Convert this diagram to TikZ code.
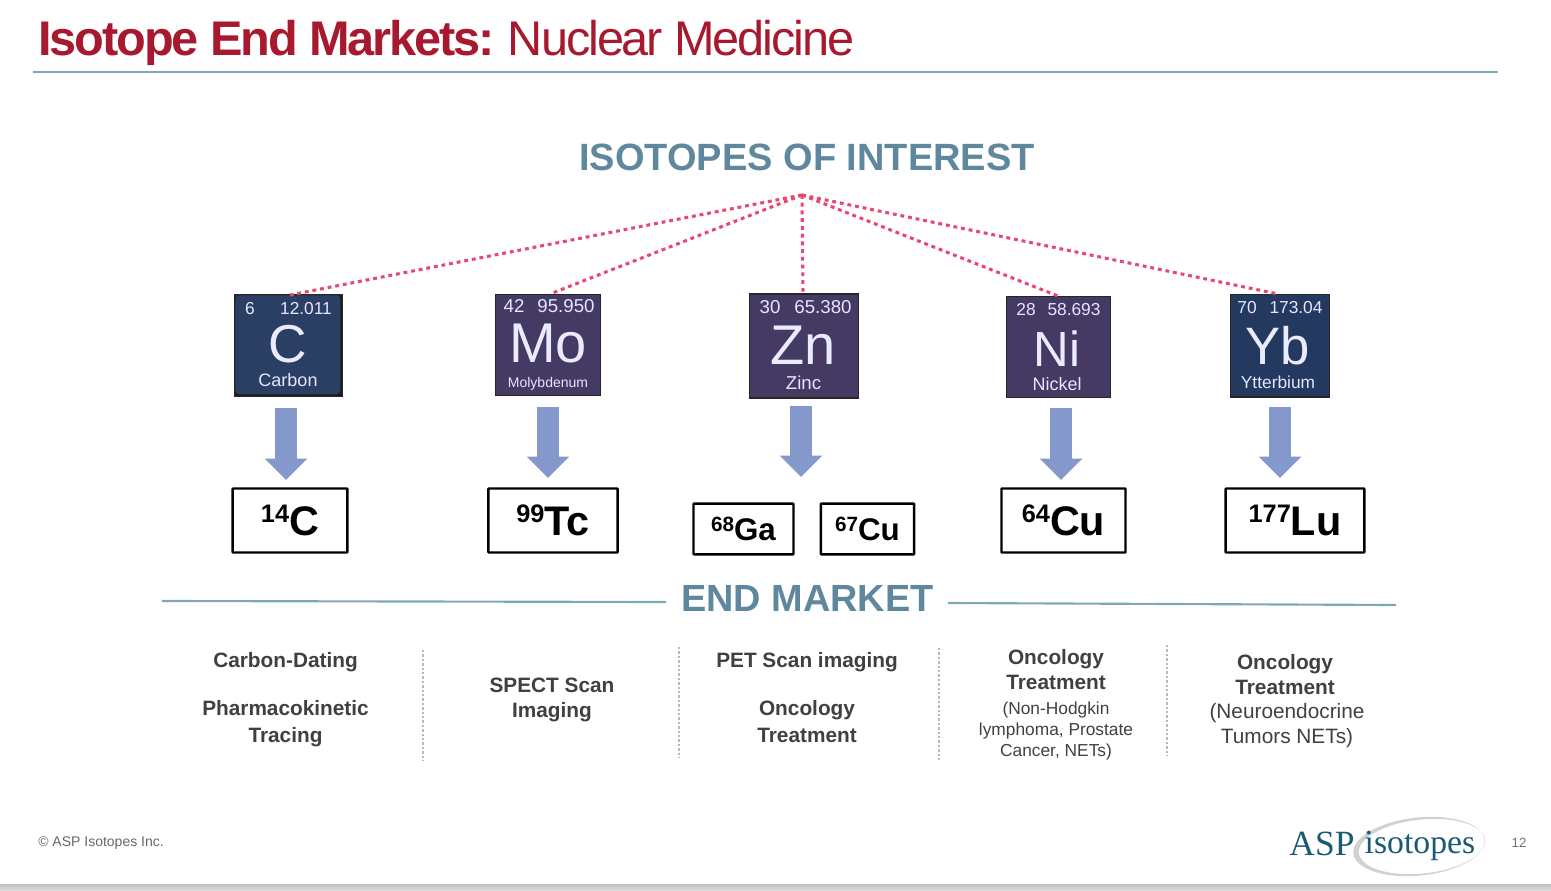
\documentclass[tikz,border=0pt]{standalone}
\usepackage{fontspec}
\setmainfont{Liberation Sans}
\newfontfamily\logofont{Liberation Serif}
\usetikzlibrary{arrows.meta}
\definecolor{titlered}{HTML}{A6192E}
\definecolor{headblue}{HTML}{5F879E}
\definecolor{rulegreen}{HTML}{7FA9B2}
\definecolor{linkpink}{HTML}{E8486F}
\definecolor{cellblue}{HTML}{2A3F63}
\definecolor{cellnavy}{HTML}{24395F}
\definecolor{cellpurple}{HTML}{453A63}
\definecolor{arrowblue}{HTML}{8498CC}
\definecolor{bodygray}{HTML}{404040}
\definecolor{logoblue}{HTML}{1B5A75}
\definecolor{logodot}{HTML}{7FB5E0}
\newcommand{\fsz}[1]{\fontsize{#1}{\dimexpr#1pt*6/5\relax}\selectfont}
\newcommand{\isoname}[2]{\raisebox{.3em}{\fontsize{19}{20}\selectfont #1}#2}
\newcommand{\isosmall}[2]{\raisebox{.3em}{\fontsize{15.5}{16}\selectfont #1}#2}
\tikzset{
  cellbox/.style={draw=black!85, line width=1pt, inner sep=0pt},
  cellnum/.style={text=white!90!blue, font=\fsz{13}, inner sep=0pt},
  cellnumb/.style={text=white!90!blue, font=\fsz{14}, inner sep=0pt},
  cellsym/.style={text=white!92!blue, font=\fsz{42}, inner sep=0pt},
  cellname/.style={text=white!90!blue, font=\fsz{13.5}, inner sep=0pt},
  isobox/.style={draw=black, line width=1.8pt, rounded corners=.5pt, inner sep=0pt, font=\bfseries\fsz{31}},
  isoboxsmall/.style={isobox, font=\bfseries\fsz{23.5}},
  down/.style={draw=arrowblue, line width=16pt, -{Triangle[length=16pt, width=31pt]}},
  link/.style={draw=linkpink, line width=2.3pt, dash pattern=on 2.9pt off 2.9pt},
  sep/.style={draw=black!28, line width=1.8pt, dash pattern=on 1.8pt off 1.5pt},
  rulel/.style={draw=rulegreen, line width=1.6pt},
  market/.style={text=bodygray, font=\bfseries\fsz{15.6}, align=center, inner sep=0pt},
  marketthin/.style={text=bodygray, font=\fsz{13}, align=center, inner sep=0pt}
}
\begin{document}
\begin{tikzpicture}[x=.75pt,y=-.75pt]
  \useasboundingbox (0,0) rectangle (1551,891);
  % title
  \node[anchor=west, inner sep=0pt, text=titlered, font=\addfontfeatures{LetterSpace=-4.3}\fsz{36.5}] (title) at (38,43) {\textbf{Isotope End Markets:} Nuclear Medicine};
  \coordinate (titleL) at (33,72);
  \coordinate (titleR) at (1498,72);
  \draw[rulel] (titleL) to (titleR);
  \node[text=headblue, font=\bfseries\fsz{28.5}, inner sep=0pt] (interest) at (807,157.5) {ISOTOPES OF INTEREST};
  \coordinate (apex) at (802,195);
  % element cells
  \node[cellbox, fill=black!88, minimum width=81pt, minimum height=76pt] (cellC) at (288.5,345.5) {};
  \node[inner sep=0pt, rounded corners=2.5pt, fill=cellblue, minimum width=78.5pt, minimum height=74pt] (panelC) at (287.7,344.7) {};
  \node[cellbox, fill=cellpurple, minimum width=79pt, minimum height=76pt] (cellMo) at (548,345) {};
  \node[cellbox, fill=cellpurple, minimum width=82pt, minimum height=78pt] (cellZn) at (804,346) {};
  \node[cellbox, fill=cellpurple, minimum width=78pt, minimum height=76pt] (cellNi) at (1058.5,347) {};
  \node[cellbox, fill=cellnavy, minimum width=74pt, minimum height=77pt] (cellYb) at (1280,345.5) {};
  \node[cellnum] (numC) at (250,309) {6};
  \node[cellnum] (massC) at (306,309) {12.011};
  \node[cellsym, font=\fsz{40}] (symC) at (288,344) {C};
  \node[cellname] (nameC) at (288,380) {Carbon};
  \node[cellnumb] (numMo) at (514,306) {42};
  \node[cellnumb] (massMo) at (566,306) {95.950};
  \node[cellsym] (symMo) at (548,344) {Mo};
  \node[cellname, font=\fsz{10.5}] (nameMo) at (548,384) {Molybdenum};
  \node[cellnumb] (numZn) at (770,307) {30};
  \node[cellnumb] (massZn) at (823,307) {65.380};
  \node[cellsym] (symZn) at (803,345) {Zn};
  \node[cellname, font=\fsz{14}] (nameZn) at (803.5,383) {Zinc};
  \node[cellnum] (numNi) at (1026,310) {28};
  \node[cellnum] (massNi) at (1074,310) {58.693};
  \node[cellsym, font=\fsz{37}] (symNi) at (1057,349) {Ni};
  \node[cellname] (nameNi) at (1057,384) {Nickel};
  \node[cellnum] (numYb) at (1247,308) {70};
  \node[cellnum] (massYb) at (1296,308) {173.04};
  \node[cellsym, font=\fsz{39.5}] (symYb) at (1278,346) {Yb};
  \node[cellname, font=\fsz{13}] (nameYb) at (1278,382) {Ytterbium};
  % links
  \begin{scope}[link]
    \draw (apex) to (290,295);
    \draw (apex) to (550,294);
    \draw (apex) to (803,294);
    \draw (apex) to (1058,296);
    \draw (apex) to (1278,294);
  \end{scope}
  % isotope boxes
  \node[isobox, minimum width=86pt, minimum height=48pt] (isoC) at (290,520.5) {\isoname{14}{C}};
  \node[isobox, minimum width=97pt, minimum height=48pt] (isoTc) at (553,520.5) {\isoname{99}{Tc}};
  \node[isoboxsmall, minimum width=75pt, minimum height=38pt] (isoGa) at (743.5,529) {\isosmall{68}{Ga}};
  \node[isoboxsmall, minimum width=70pt, minimum height=38pt] (isoCu) at (867.5,529) {\isosmall{67}{Cu}};
  \node[isobox, minimum width=93pt, minimum height=48pt] (isoCuB) at (1063.5,520.5) {\isoname{64}{Cu}};
  \node[isobox, minimum width=104pt, minimum height=48pt] (isoLu) at (1295,520.5) {\isoname{177}{Lu}};
  % block arrows
  \coordinate (downCa) at (286,408);
  \coordinate (downCb) at (286,480);
  \coordinate (downMoa) at (548,407);
  \coordinate (downMob) at (548,478);
  \coordinate (downZna) at (801,406);
  \coordinate (downZnb) at (801,477);
  \coordinate (downNia) at (1061,408);
  \coordinate (downNib) at (1061,480);
  \coordinate (downYba) at (1280,407);
  \coordinate (downYbb) at (1280,478);
  \draw[down] (downCa) to (downCb);
  \draw[down] (downMoa) to (downMob);
  \draw[down] (downZna) to (downZnb);
  \draw[down] (downNia) to (downNib);
  \draw[down] (downYba) to (downYbb);
  % end market
  \node[text=headblue, font=\bfseries\fsz{28.4}, inner sep=0pt] (endmarket) at (807.5,598) {END MARKET};
  \coordinate (ruleA) at (162,601);
  \coordinate (ruleB) at (666,602);
  \coordinate (ruleC) at (948,603);
  \coordinate (ruleD) at (1396,605);
  \draw[rulel] (ruleA) to (ruleB);
  \draw[rulel] (ruleC) to (ruleD);
  \node[market] (useC) at (285.5,662) {Carbon-Dating};
  \node[market] (useCb) at (285.5,724) {Pharmacokinetic\\[1.5pt]Tracing};
  \node[market] (useTc) at (552,699.5) {SPECT Scan\\Imaging};
  \node[market] (useGa) at (807,662) {PET Scan imaging};
  \node[market] (useGb) at (807,722) {Oncology\\[1.5pt]Treatment};
  \node[market] (useCu) at (1056,670) {Oncology\\Treatment};
  \node[marketthin] (useCub) at (1056,731) {(Non-Hodgkin\\lymphoma, Prostate\\Cancer, NETs)};
  \node[market] (useLu) at (1285,675) {Oncology\\Treatment};
  \node[marketthin, font=\fsz{15.6}] (useLub) at (1287,726) {(Neuroendocrine\\Tumors NETs)};
  % separators
  \coordinate (sepAa) at (423,650);
  \coordinate (sepAb) at (423,761);
  \coordinate (sepBa) at (679,647);
  \coordinate (sepBb) at (679,758);
  \coordinate (sepCa) at (939,648);
  \coordinate (sepCb) at (939,760);
  \coordinate (sepDa) at (1167,645);
  \coordinate (sepDb) at (1167,756);
  \draw[sep] (sepAa) to (sepAb);
  \draw[sep] (sepBa) to (sepBb);
  \draw[sep] (sepCa) to (sepCb);
  \draw[sep] (sepDa) to (sepDb);
  % footer
  \node[anchor=west, inner sep=0pt, text=black!60, font=\fsz{10.5}] (copyright) at (38,843.5) {© ASP Isotopes Inc.};
  \node[inner sep=0pt, text=black!55, font=\fsz{10}] (pagenum) at (1519,843) {12};
  \fill[black!18, even odd rule] (1419,846.5) ellipse [x radius=66, y radius=29, rotate=6] (1422,846.5) ellipse [x radius=63.5, y radius=27, rotate=6];
  \fill[logodot] (1368,833) circle [radius=2];
  \node[inner sep=0pt, text=logoblue, font=\logofont\fsz{26.6}] (logoasp) at (1322,844) {ASP};
  \node[inner sep=0pt, text=logoblue, font=\logofont\fsz{25.3}] (logoiso) at (1420,846) {isotopes};
  \shade[top color=black!25, bottom color=black!12] (0,884) rectangle (1551,891);
\end{tikzpicture}
\end{document}
